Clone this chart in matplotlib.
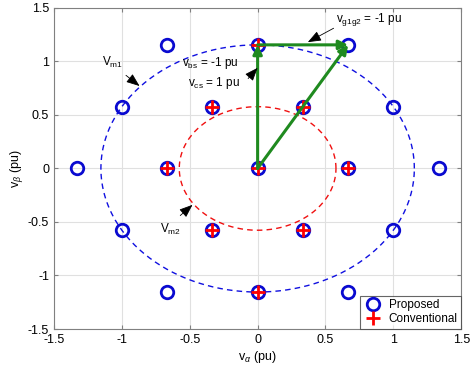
import numpy as np
from matplotlib import pyplot as plt
from matplotlib.ticker import FormatStrFormatter

plt.rcParams['font.family'] = ['Liberation Sans', 'DejaVu Sans']
plt.rcParams['mathtext.fontset'] = 'custom'
plt.rcParams['mathtext.rm'] = 'Liberation Sans'
plt.rcParams['mathtext.it'] = 'Liberation Sans:italic'

# space vector positions (pu)
r3 = np.sqrt(3)
prop_x = [0, 2/3, -2/3, 2/3, -2/3, 0, 1, -1, 1, -1, 1/3, -1/3, 1/3, -1/3, 4/3, -4/3, 2/3, -2/3, 0]
prop_y = [2/r3, 2/r3, 2/r3, -2/r3, -2/r3, -2/r3, 1/r3, 1/r3, -1/r3, -1/r3, 1/r3, 1/r3, -1/r3, -1/r3, 0, 0, 0, 0, 0]
conv_x = [0, 0, 1/3, -1/3, 1/3, -1/3, 2/3, -2/3, 0]
conv_y = [2/r3, -2/r3, 1/r3, 1/r3, -1/r3, -1/r3, 0, 0, 0]

r_m1 = 2/r3
r_m2 = 1/r3

fig = plt.figure(figsize=(4.74, 3.76), dpi=100)
ax = fig.add_axes([0.114, 0.125, 0.859, 0.854])

th = np.linspace(0, 2*np.pi, 400)
ax.plot(r_m1*np.cos(th), r_m1*np.sin(th), '--', color='#1010e0', lw=1, dashes=(4, 3))
ax.plot(r_m2*np.cos(th), r_m2*np.sin(th), '--', color='#f01010', lw=1, dashes=(4, 3))

p1, = ax.plot(prop_x, prop_y, 'o', ms=9, mfc='none', mec='#0a0ad0', mew=2, ls='none', label='Proposed')
p2, = ax.plot(conv_x, conv_y, '+', ms=10, mec='#ff0000', mew=2, ls='none', label='Conventional')

green = '#1f8a1f'
arr = dict(arrowstyle='-|>,head_length=0.6,head_width=0.3', color=green, lw=2.2,
           mutation_scale=9, shrinkA=0, shrinkB=0)
ax.annotate('', xy=(0, r_m1), xytext=(0, 0), arrowprops=arr)
ax.annotate('', xy=(2/3, r_m1), xytext=(0, 0), arrowprops=arr)
ax.annotate('', xy=(2/3, r_m1), xytext=(0, r_m1), arrowprops=arr)

lbl = dict(arrowstyle='-|>,head_length=0.9,head_width=0.35', color='k', lw=0.6,
           mutation_scale=9, shrinkA=0, shrinkB=0)
ax.annotate('v$_{\\mathrm{g1g2}}$ = -1 pu', xy=(0.37, 1.18), xytext=(0.58, 1.37), fontsize=8.5)
ax.annotate('', xy=(0.37, 1.18), xytext=(0.56, 1.31), arrowprops=lbl)
ax.annotate('', xy=(0, 0.94), xytext=(-0.07, 0.84), arrowprops=lbl)
ax.text(-0.56, 0.96, 'v$_{\\mathrm{bs}}$ = -1 pu', fontsize=8.5)
ax.text(-0.51, 0.77, 'v$_{\\mathrm{cs}}$ = 1 pu', fontsize=8.5)
ax.text(-1.15, 0.96, 'V$_{\\mathrm{m1}}$', fontsize=8.5)
ax.annotate('', xy=(-0.87, 0.77), xytext=(-0.97, 0.87), arrowprops=lbl)
ax.text(-0.72, -0.6, 'V$_{\\mathrm{m2}}$', fontsize=8.5)
ax.annotate('', xy=(-0.48, -0.34), xytext=(-0.57, -0.44), arrowprops=lbl)

ax.set_xlim(-1.5, 1.5)
ax.set_ylim(-1.5, 1.5)
ax.set_xticks(np.arange(-1.5, 1.51, 0.5))
ax.set_yticks(np.arange(-1.5, 1.51, 0.5))
ax.xaxis.set_major_formatter(FormatStrFormatter('%g'))
ax.yaxis.set_major_formatter(FormatStrFormatter('%g'))
ax.tick_params(labelsize=9, direction='in', length=3, color='#808080', top=True, right=True)
ax.grid(True, color='#e0e0e0', lw=0.8)
ax.set_axisbelow(True)
for s in ax.spines.values():
    s.set_color('#808080')

ax.set_xlabel('v$_{\\alpha}$ (pu)', fontsize=9, labelpad=2)
ax.set_ylabel('v$_{\\beta}$ (pu)', fontsize=9, labelpad=2)

leg = ax.legend(handles=[p1, p2], loc='lower right', fontsize=8.5, frameon=True, fancybox=False,
                borderaxespad=0, handletextpad=0.5, borderpad=0.3, labelspacing=0.2, handlelength=1.6)
leg.get_frame().set_edgecolor('#404040')
leg.get_frame().set_linewidth(0.8)

fig.savefig('out.png', dpi=100)
